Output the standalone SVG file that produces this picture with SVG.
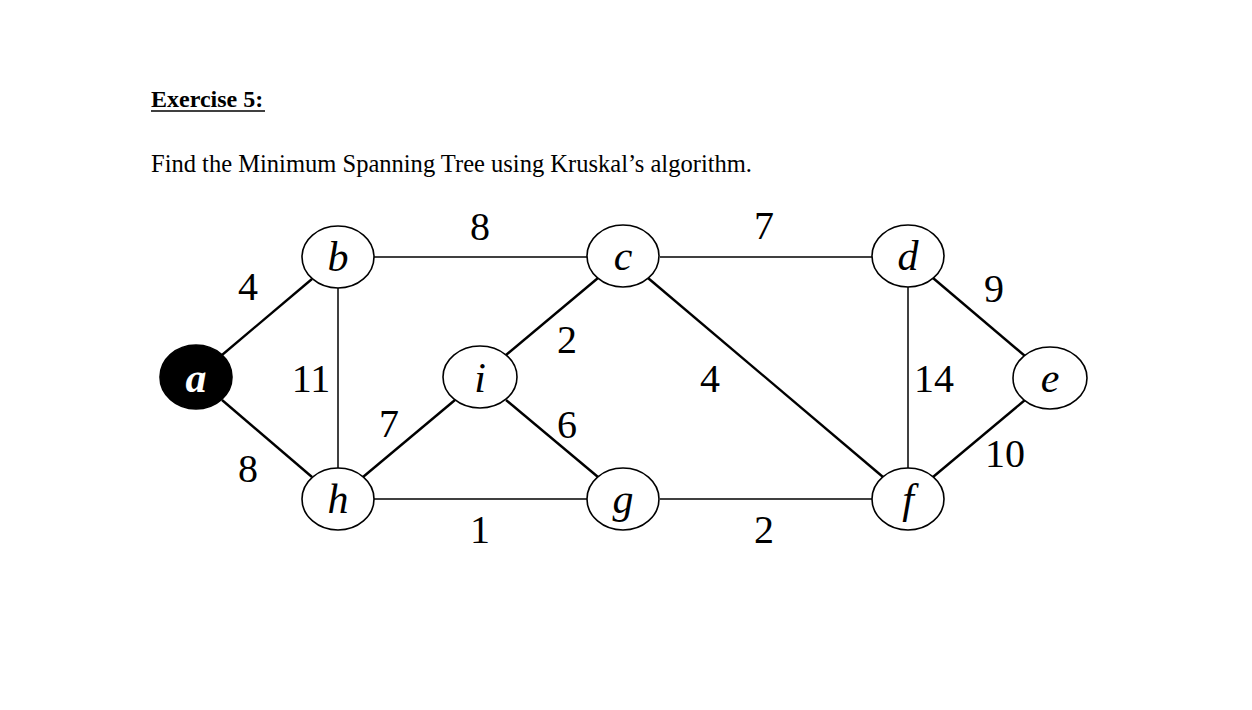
<svg xmlns="http://www.w3.org/2000/svg" width="1252" height="710" viewBox="0 0 1252 710">
<style>
.t{font-family:"Liberation Serif","Times New Roman",serif;fill:#000}
.w{font-family:"Liberation Serif","Times New Roman",serif;font-size:40px;text-anchor:middle;fill:#000}
.n{font-family:"Liberation Serif","Times New Roman",serif;font-style:italic;font-size:42px;text-anchor:middle;fill:#000}
.nd{fill:#fff;stroke:#000;stroke-width:1.6}
.e1{stroke:#000;stroke-width:1.5;fill:none}
.e2{stroke:#000;stroke-width:2.4;fill:none}
</style>
<rect width="1252" height="710" fill="#fff"/>
<g id="title">
<text class="t" x="151" y="107" font-size="24" font-weight="bold">Exercise 5:</text>
<line x1="151" y1="111" x2="265" y2="111" stroke="#000" stroke-width="1.5"/>
<text class="t" x="151" y="172" font-size="24.5" textLength="601" lengthAdjust="spacingAndGlyphs">Find the Minimum Spanning Tree using Kruskal’s algorithm.</text>
</g>
<g id="edges">
<line class="e2" x1="222" y1="355" x2="312" y2="279"/>
<line class="e2" x1="222" y1="400" x2="312" y2="477"/>
<line class="e1" x1="338" y1="288" x2="338" y2="468"/>
<line class="e1" x1="374" y1="257" x2="587" y2="257"/>
<line class="e1" x1="660" y1="257" x2="872" y2="257"/>
<line class="e2" x1="506" y1="355" x2="598" y2="278"/>
<line class="e2" x1="506" y1="400" x2="598" y2="477"/>
<line class="e2" x1="363" y1="477" x2="455" y2="400"/>
<line class="e1" x1="374" y1="499" x2="587" y2="499"/>
<line class="e1" x1="660" y1="499" x2="872" y2="499"/>
<line class="e2" x1="648" y1="278" x2="883" y2="477"/>
<line class="e1" x1="908" y1="287" x2="908" y2="468"/>
<line class="e2" x1="933" y1="278" x2="1025" y2="356"/>
<line class="e2" x1="1025" y1="400" x2="933" y2="477"/>
</g>
<g id="weights">
<text class="w" x="248" y="300">4</text>
<text class="w" x="480" y="240">8</text>
<text class="w" x="764" y="239">7</text>
<text class="w" x="994" y="302">9</text>
<text class="w" x="311" y="392">11</text>
<text class="w" x="567" y="353">2</text>
<text class="w" x="710" y="392">4</text>
<text class="w" x="934" y="392">14</text>
<text class="w" x="389" y="437">7</text>
<text class="w" x="567" y="438">6</text>
<text class="w" x="248" y="482">8</text>
<text class="w" x="1005" y="467">10</text>
<text class="w" x="480" y="543">1</text>
<text class="w" x="764" y="543">2</text>
</g>
<g id="node-a"><ellipse cx="196" cy="377" rx="36" ry="32" fill="#000" stroke="#000" stroke-width="1.6"/><text class="n" x="196" y="392" style="fill:#fff" font-weight="bold">a</text></g>
<g id="node-b"><ellipse class="nd" cx="338" cy="257" rx="36" ry="31"/><text class="n" x="338" y="271">b</text></g>
<g id="node-c"><ellipse class="nd" cx="623" cy="256" rx="36" ry="31"/><text class="n" x="623" y="270" font-size="38">c</text></g>
<g id="node-d"><ellipse class="nd" cx="908" cy="256" rx="36" ry="31"/><text class="n" x="908" y="270">d</text></g>
<g id="node-e"><ellipse class="nd" cx="1050" cy="378" rx="37" ry="31"/><text class="n" x="1050" y="392">e</text></g>
<g id="node-f"><ellipse class="nd" cx="908" cy="499" rx="36" ry="31"/><text class="n" x="908" y="513">f</text></g>
<g id="node-g"><ellipse class="nd" cx="623" cy="499" rx="36" ry="31"/><text class="n" x="623" y="513">g</text></g>
<g id="node-h"><ellipse class="nd" cx="338" cy="499" rx="36" ry="31"/><text class="n" x="338" y="513">h</text></g>
<g id="node-i"><ellipse class="nd" cx="480" cy="377" rx="37" ry="31"/><text class="n" x="480" y="392">i</text></g>
</svg>
